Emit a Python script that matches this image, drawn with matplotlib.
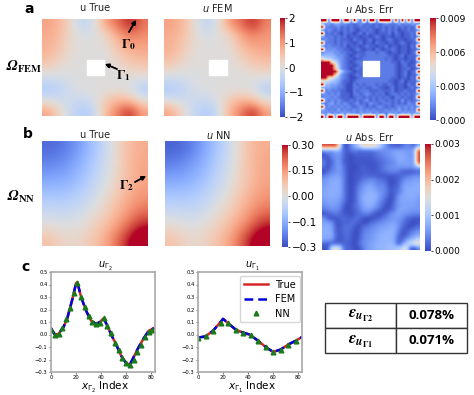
import numpy as np
import matplotlib
matplotlib.use("Agg")
import matplotlib.pyplot as plt
from matplotlib.patches import Rectangle

W, H = 474, 395

# === data ===
u_true_fem = [
    [0.9, 0.7, 0.15, -0.45, -0.05, 1.0, 1.4, 2.0, 1.3],
    [0.8, 0.6, 0.15, -0.1, 0.0, 0.2, 0.9, 1.3, 1.1],
    [0.75, 0.5, 0.1, 0.0, 0.0, 0.1, 0.6, 0.9, 0.9],
    [0.65, 0.35, 0.05, 0.0, 0.0, 0.0, 0.35, 0.6, 0.7],
    [0.3, 0.1, 0.0, 0.0, 0.0, 0.0, 0.1, 0.3, 0.4],
    [-0.2, -0.15, -0.05, 0.0, 0.0, 0.0, 0.0, 0.0, -0.05],
    [-0.6, -0.45, -0.1, 0.0, 0.0, 0.0, 0.0, -0.05, -0.55],
    [-0.1, -0.2, -0.2, -0.3, -0.05, 0.4, 0.7, 0.5, 0.0],
    [0.9, 0.2, -0.3, -0.6, -0.3, 0.7, 1.3, 1.9, 0.9],
]
u_fem = [
    [0.9, 0.7, 0.15, -0.45, -0.05, 1.0, 1.4, 1.9, 1.2],
    [0.8, 0.6, 0.15, -0.1, 0.0, 0.2, 0.9, 1.2, 1.0],
    [0.75, 0.5, 0.1, 0.0, 0.0, 0.1, 0.6, 0.9, 0.9],
    [0.65, 0.35, 0.05, 0.0, 0.0, 0.0, 0.35, 0.6, 0.7],
    [0.3, 0.1, 0.0, 0.0, 0.0, 0.0, 0.1, 0.3, 0.4],
    [-0.2, -0.15, -0.05, 0.0, 0.0, 0.0, 0.0, 0.0, -0.05],
    [-0.6, -0.45, -0.1, 0.0, 0.0, 0.0, 0.0, -0.05, -0.55],
    [-0.1, -0.2, -0.2, -0.3, -0.05, 0.4, 0.7, 0.5, 0.0],
    [0.9, 0.2, -0.3, -0.6, -0.3, 0.7, 1.3, 1.9, 0.9],
]
# base 19 digits, one step = 0.0005
err_fem_rows = [
    "ii2iii3ii4i52i3ii2iiii3i2i4i2ii",
    "5342443322123212121232224232432",
    "i3222312121121211212" + "1212121212i",
    "32321212121012121012" + "12120112123",
    "i1212102110120211011" + "1202101121i",
    "42221212011101101210" + "11011011214",
    "23221211102110120110" + "1210110112i",
    "i2221212110120110211" + "01101210113",
    "32322212011101211011" + "2011011021i",
    "i3333221101210110210" + "11210110112",
    "34443322110111222122" + "1011011012i",
    "55554332101211222222" + "21101201114",
    "a7765432110112222222" + "1210110111i",
    "iiia8532101222222222" + "22110211013",
    "iiiib632110122222222" + "2221012011i",
    "iiiic732101212222222" + "22210112012",
    "iiiiib63210112222222" + "2221012012i",
    "iiiic732101212222222" + "22210120114",
    "iia97532100122222222" + "2211011021i",
    "88765421101222222222" + "21101201113",
    "i5544321002121222121" + "1210110211i",
    "44433221002212112211" + "01201101212",
    "i2322211002122211121" + "1120112111i",
    "33232311102212321212" + "01221212124",
    "23323211101221212121" + "2102212112i",
    "i3232321121212312122" + "12121312123",
    "32342323212312132212" + "2212121322i",
    "i2323232321232121232" + "12123232323",
    "43232423223232323222" + "3232423232i",
    "33424243433243342423" + "24342434343",
    "i2ii4ii3iiii4iiii3ii" + "2ii3iiii4ii",
]
u_nn_true = [
    [-0.26, -0.24, -0.18, -0.10, -0.02, 0.08, 0.12],
    [-0.22, -0.20, -0.15, -0.08, -0.01, 0.08, 0.13],
    [-0.17, -0.16, -0.12, -0.06, 0.00, 0.08, 0.13],
    [-0.11, -0.11, -0.08, -0.03, 0.03, 0.10, 0.15],
    [-0.05, -0.06, -0.04, 0.00, 0.06, 0.13, 0.19],
    [0.00, -0.01, 0.00, 0.04, 0.10, 0.18, 0.28],
    [0.08, 0.03, 0.03, 0.08, 0.15, 0.28, 0.38],
]
u_nn = [
    [-0.27, -0.25, -0.18, -0.10, -0.02, 0.08, 0.12],
    [-0.23, -0.20, -0.15, -0.08, -0.01, 0.08, 0.13],
    [-0.17, -0.16, -0.12, -0.06, 0.00, 0.08, 0.13],
    [-0.11, -0.11, -0.08, -0.03, 0.03, 0.10, 0.15],
    [-0.05, -0.06, -0.04, 0.00, 0.06, 0.13, 0.19],
    [0.01, -0.01, 0.00, 0.04, 0.10, 0.18, 0.28],
    [0.08, 0.03, 0.03, 0.08, 0.15, 0.28, 0.38],
]
# base 36 digits, one step = 0.00008
err_nn_rows = [
    "zzzzk116afmmmlga622135528",
    "786a9314523334566788877 9z".replace(" ", ""),
    "035673102222234567899877z",
    "304672101111123456799878z",
    "512672101111112345688887z",
    "304684100121112456677778 8".replace(" ", ""),
    "035674101122112345541101 2".replace(" ", ""),
    "467885101122221111123456 6".replace(" ", ""),
    "789995101245654320124778 8".replace(" ", ""),
    "789995101467865530127889 9".replace(" ", ""),
    "899995102579986641237999 9".replace(" ", ""),
    "899995102689a976412479999",
    "899985102 69aaa853027 99998".replace(" ", ""),
    "788874102 69aa9641037 88887".replace(" ", ""),
    "678762013589a853014788887",
    "456651012478753102488877 7".replace(" ", ""),
    "023431102345310136787665 5".replace(" ", ""),
    "710123223310012456776321 1".replace(" ", ""),
    "887112233100345678864210 1".replace(" ", ""),
    "998213331034567889973101 3".replace(" ", ""),
    "999213320145678 99a9511356".replace(" ", ""),
    "999312320156789aaa9312579",
    "988212310256789aaa82269cf",
    "211122210367 89aaab916dhkm".replace(" ", ""),
    "10hkh42201 4789aabbcdgk20".replace(" ", ""),
]
gamma2_x = [0, 3, 6, 10, 13, 17, 20, 21, 24, 28, 32, 36, 39, 42, 45, 48, 52, 56, 60, 63, 66, 70, 74, 78, 82]
gamma2_y = [0.05, 0.0, 0.005, 0.06, 0.13, 0.28, 0.41, 0.42, 0.30, 0.19, 0.11, 0.085, 0.10, 0.13, 0.07,
            0.0, -0.08, -0.17, -0.23, -0.24, -0.18, -0.10, -0.03, 0.03, 0.05]
gamma2_nn_x = [0, 3, 6, 9, 12, 15, 18, 21, 24, 27, 30, 33, 36, 39, 42, 45, 48, 51, 54, 57, 60, 63, 66, 69, 72, 75, 78, 81]
gamma2_nn_y = [0.04, 0.0, 0.005, 0.05, 0.125, 0.21, 0.33, 0.41, 0.30, 0.22, 0.15, 0.10, 0.085, 0.09, 0.13, 0.07,
               0.01, -0.07, -0.12, -0.19, -0.23, -0.24, -0.20, -0.14, -0.08, -0.02, 0.02, 0.04]
gamma1_x = [0, 6, 12, 18, 20, 24, 30, 36, 41, 48, 54, 60, 66, 72, 78, 83]
gamma1_y = [-0.025, -0.015, 0.03, 0.10, 0.125, 0.09, 0.04, 0.015, 0.0, -0.05, -0.10, -0.14, -0.12, -0.08, -0.05, -0.02]
gamma1_nn_x = [0, 6, 12, 18, 24, 30, 36, 42, 48, 54, 60, 66, 72, 78]
gamma1_nn_y = [-0.03, -0.015, 0.03, 0.09, 0.09, 0.04, 0.015, 0.0, -0.055, -0.10, -0.14, -0.125, -0.085, -0.05]
line_ticks_x = [0, 20, 40, 60, 80]
line_ticks_y = [-0.3, -0.2, -0.1, 0.0, 0.1, 0.2, 0.3, 0.4, 0.5]
cbar_u_ticks = [-2, -1, 0, 1, 2]
cbar_u_labels = ["\u22122", "\u22121", "0", "1", "2"]
cbar_err_ticks = [0.0, 0.003, 0.006, 0.009]
cbar_nn_ticks = [-0.3, -0.15, 0.0, 0.15, 0.3]
cbar_nn_labels = ["\u22120.3", "\u22120.1", "0.00", "0.15", "0.30"]
cbar_nnerr_ticks = [0.0, 0.001, 0.002, 0.003]
table_rows = [r"$\mathbfit{\varepsilon}_{\mathbfit{u}_{\mathbf{\Gamma 2}}}$",
              r"$\mathbfit{\varepsilon}_{\mathbfit{u}_{\mathbf{\Gamma 1}}}$"]
table_vals = ["0.078%", "0.071%"]

err_fem = np.array([[int(c, 19) * 0.0005 for c in r.ljust(31, "1")[:31]] for r in err_fem_rows])
err_nn = np.array([[int(c, 36) * 0.00008 for c in r.ljust(25, "5")[:25]] for r in err_nn_rows])

fig = plt.figure(figsize=(W / 100, H / 100), dpi=100)


def px_axes(x0, y0, x1, y1):
    return fig.add_axes([x0 / W, 1 - y1 / H, (x1 - x0) / W, (y1 - y0) / H])


def heat(box, vals, vmin, vmax, hole=None, interp="bicubic"):
    ax = px_axes(*box)
    im = ax.imshow(vals, cmap="coolwarm", vmin=vmin, vmax=vmax, aspect="auto",
                   interpolation=interp, extent=[0, 1, 0, 1])
    ax.axis("off")
    if hole:
        ax.add_patch(Rectangle((hole[0], hole[1]), hole[2], hole[3], color="white", zorder=3))
    return im


def cbar(im, box, ticks, labels=None, size=7.5):
    cax = px_axes(*box)
    cb = fig.colorbar(im, cax=cax)
    cb.set_ticks(ticks)
    if labels:
        cb.set_ticklabels(labels)
    cb.ax.tick_params(labelsize=size, length=1.5, width=0.5, pad=1)
    cb.outline.set_visible(False)


def ftext(x, y, s, **kw):
    kw.setdefault("ha", "center")
    kw.setdefault("va", "center")
    fig.text(x / W, 1 - y / H, s, **kw)


def arrow(x0, y0, x1, y1):
    fig.add_artist(plt.annotate("", xy=(x1 / W, 1 - y1 / H), xytext=(x0 / W, 1 - y0 / H),
                                xycoords="figure fraction", textcoords="figure fraction",
                                arrowprops=dict(arrowstyle="-|>", color="black", lw=1.1,
                                                mutation_scale=6, shrinkA=0, shrinkB=0)))


# === a ===
hole_a = (0.425, 0.42, 0.16, 0.155)
im = heat((42, 19, 148, 116), u_true_fem, -2, 2, hole_a)
im = heat((164, 19, 271, 116), u_fem, -2, 2, hole_a)
cbar(im, (280, 18, 285, 117), cbar_u_ticks, cbar_u_labels)
im = heat((321, 19, 420, 118), err_fem, 0, 0.009, (0.425, 0.42, 0.165, 0.16), "bilinear")
cbar(im, (430, 18, 436, 120), cbar_err_ticks, ["0.000", "0.003", "0.006", "0.009"], size=6.7)

# === b ===
im = heat((42, 141, 148, 246), u_nn_true, -0.3, 0.3)
im = heat((165, 141, 270, 246), u_nn, -0.3, 0.3)
cbar(im, (282, 145, 288, 247), cbar_nn_ticks, cbar_nn_labels)
im = heat((322, 144, 420, 250), err_nn, 0, 0.003)
cbar(im, (425, 144, 431, 251), cbar_nnerr_ticks, ["0.000", "0.001", "0.002", "0.003"], size=6.5)

# === c ===
for i, (box, x, y, nx, ny, sub) in enumerate([
    ((51, 272, 155, 372), gamma2_x, gamma2_y, gamma2_nn_x, gamma2_nn_y, "2"),
    ((198, 272, 302, 372), gamma1_x, gamma1_y, gamma1_nn_x, gamma1_nn_y, "1"),
]):
    ax = px_axes(*box)
    ax.plot(x, y, color="#d62728", lw=1.8, label="True")
    ax.plot(x, y, color="#0000dd", lw=1.8, ls=(0, (3.5, 2)), label="FEM")
    ax.plot(nx, ny, ls="none", marker="^", color="#1a7a1a", ms=3.4, label="NN")
    ax.set_xlim(0, 83)
    ax.set_ylim(-0.3, 0.5)
    ax.set_xticks(line_ticks_x)
    ax.set_yticks(line_ticks_y)
    ax.set_yticklabels([f"{v:.1f}".replace("-", "\u2212") for v in line_ticks_y])
    ax.tick_params(labelsize=3.8, length=1.5, width=0.4, pad=1)
    for s in ax.spines.values():
        s.set_color("#a8a8a8")
        s.set_linewidth(1.2)
    if i == 1:
        ax.legend(loc="upper right", fontsize=7, bbox_to_anchor=(1.0, 0.98), borderaxespad=0.2,
                  handlelength=2.4, labelspacing=0.45)
    cx = (box[0] + box[2]) / 2
    ftext(cx + 2, 266, rf"$u_{{\Gamma_{sub}}}$", fontsize=7)
    ftext(cx + 2, 387, rf"$x_{{\Gamma_{sub}}}$ Index", fontsize=7.5)

# === titles and labels ===
for x, y, s in [(95, 8, "u True"), (217, 8, "$u$ FEM"), (370, 9, "$u$ Abs. Err"),
                (95, 135, "u True"), (218, 135, "$u$ NN"), (370, 137, "$u$ Abs. Err")]:
    ftext(x, y, s, fontsize=7, color="#222222")

ftext(29, 9, "a", fontsize=10, fontweight="bold")
ftext(28, 134, "b", fontsize=10, fontweight="bold")
ftext(26, 267, "c", fontsize=10, fontweight="bold")

ftext(23, 67, r"$\mathbfit{\Omega}_{\mathbf{FEM}}$", fontsize=10.5, math_fontfamily="stix")
ftext(20, 197, r"$\mathbfit{\Omega}_{\mathbf{NN}}$", fontsize=10.5, math_fontfamily="stix")
ftext(128, 45, r"$\mathbf{\Gamma_0}$", fontsize=9.5, math_fontfamily="stix")
ftext(123, 76, r"$\mathbf{\Gamma_1}$", fontsize=9.5, math_fontfamily="stix")
ftext(126, 186, r"$\mathbf{\Gamma_2}$", fontsize=9.5, math_fontfamily="stix")
arrow(129, 32, 136, 20)
arrow(117, 69, 105, 64)
arrow(135, 182, 146, 176)

# === table ===
tax = px_axes(325, 303, 467, 353)
tax.axis("off")
tbl = tax.table(cellText=[[a, b] for a, b in zip(table_rows, table_vals)], bbox=[0, 0, 1, 1],
                colWidths=[0.5, 0.5], cellLoc="center")
tbl.auto_set_font_size(False)
for (r, c), cell in tbl.get_celld().items():
    cell.set_linewidth(1.0)
    cell.set_edgecolor("#333333")
    t = cell.get_text()
    if c == 0:
        t.set_fontsize(12)
        t.set_math_fontfamily("stix")
    else:
        t.set_fontsize(9.5)
        t.set_fontweight("bold")
        t.set_fontfamily("Open Sans")

fig.savefig("out.png", dpi=100)
